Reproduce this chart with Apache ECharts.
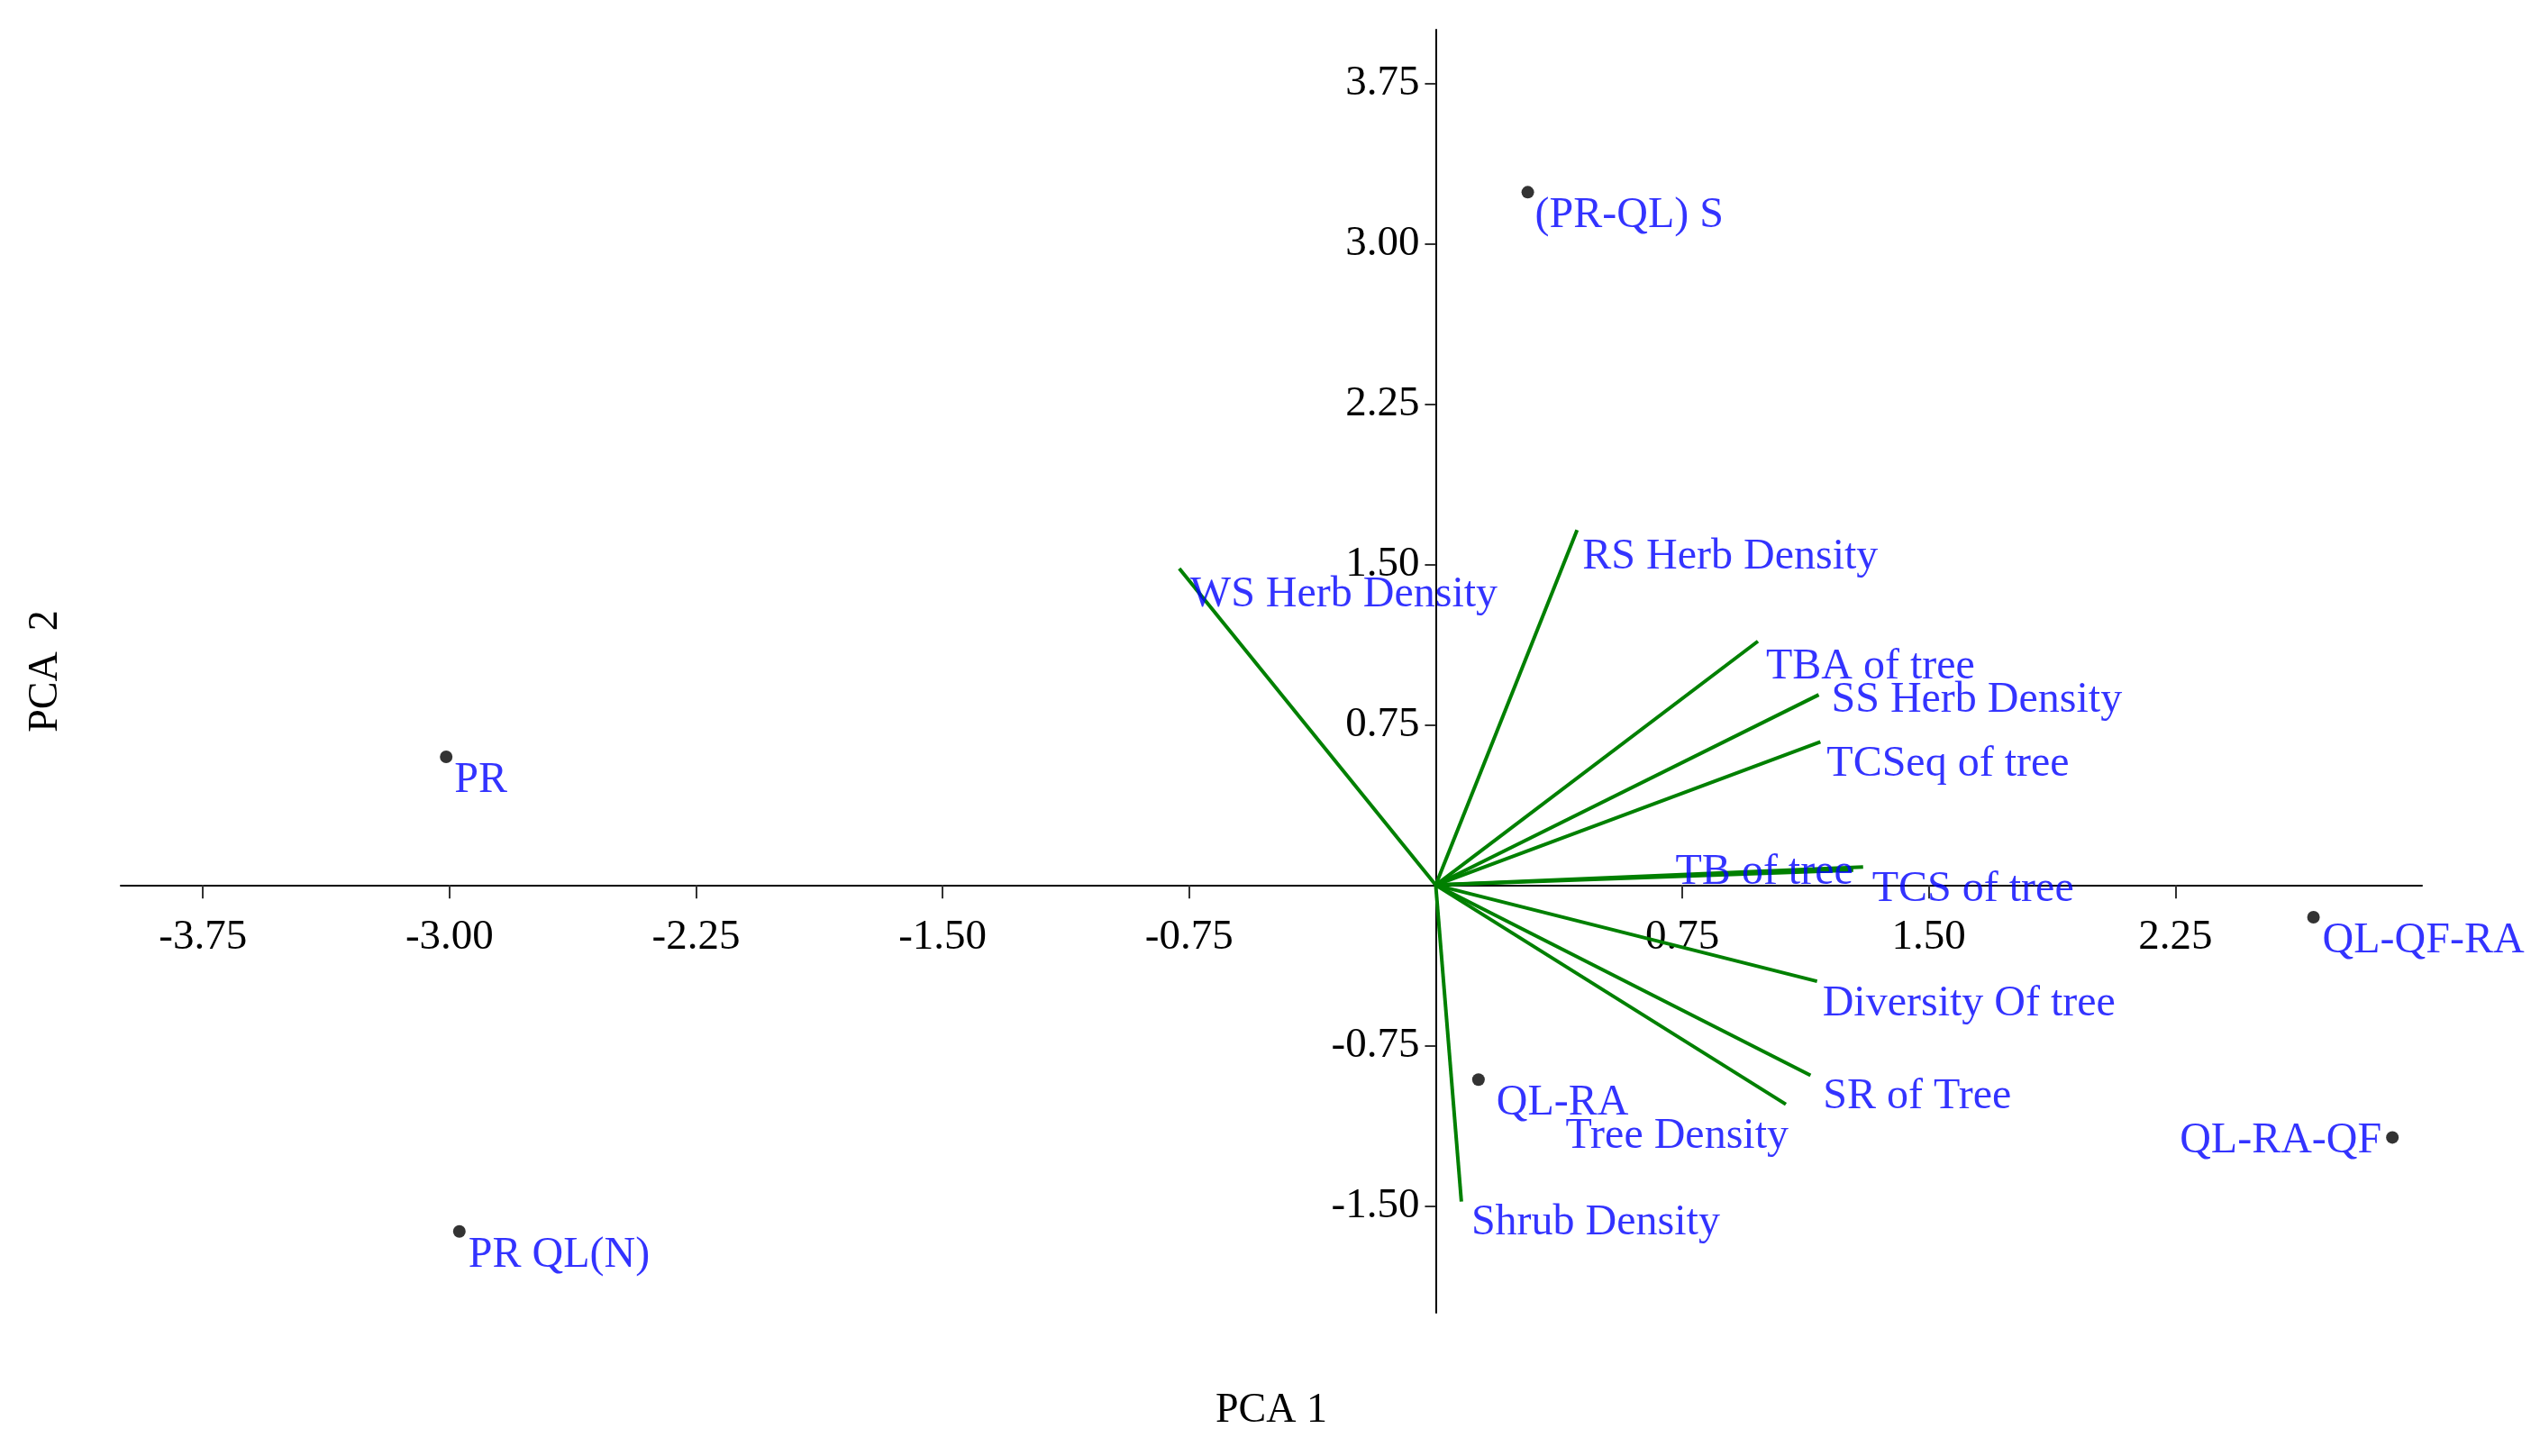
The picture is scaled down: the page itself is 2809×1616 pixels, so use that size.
<!DOCTYPE html>
<html>
<head>
<meta charset="utf-8">
<script src="https://cdn.jsdelivr.net/npm/echarts@6/dist/echarts.min.js"></script>
<style>
  html, body { margin: 0; padding: 0; background: #fff; }
  #chart { width: 2809px; height: 1616px; }
</style>
</head>
<body>
<div id="chart"></div>
<script>
// ---- data ----
const siteNames = ['(PR-QL) S', 'PR', 'PR QL(N)', 'QL-RA', 'QL-QF-RA', 'QL-RA-QF'];
const siteX = [0.28, -3.01, -2.97, 0.13, 2.67, 2.91];
const siteY = [3.24, 0.60, -1.62, -0.91, -0.15, -1.18];

const varNames = ['WS Herb Density', 'RS Herb Density', 'TBA of tree', 'SS Herb Density', 'TCSeq of tree',
                  'TB of tree', 'TCS of tree', 'Diversity Of tree', 'SR of Tree', 'Tree Density', 'Shrub Density'];
const varX = [-0.78, 0.43, 0.98, 1.165, 1.17, 1.27, 1.30, 1.16, 1.14, 1.065, 0.078];
const varY = [1.48, 1.66, 1.14, 0.89, 0.67, 0.07, 0.085, -0.45, -0.89, -1.025, -1.48];

const xTicks = [-3.75, -3.00, -2.25, -1.50, -0.75, 0.75, 1.50, 2.25];
const yTicks = [-1.50, -0.75, 0.75, 1.50, 2.25, 3.00, 3.75];

const xTitle = 'PCA 1';
const yTitle = 'PCA  2';

// ---- axis ranges ----
const xMin = -4, xMax = 3, yMin = -2, yMax = 4;

// ---- layout (styling only) ----
const G = { left: 134, right: 121, top: 33, bottom: 159 };
const W = 2809, H = 1616;
const gridW = W - G.left - G.right;
const gridH = H - G.top - G.bottom;
// shift axes from grid edges to the zero lines so that they cross at the origin
const xAxisShift = -gridH * (0 - yMin) / (yMax - yMin);
const yAxisShift = -gridW * (0 - xMin) / (xMax - xMin);

// ---- label placement (styling only) ----
const labelPlace = {
  '(PR-QL) S':        { align: 'left',  va: 'top',    off: [8, 2] },
  'PR':               { align: 'left',  va: 'top',    off: [9, 2] },
  'PR QL(N)':         { align: 'left',  va: 'top',    off: [10, 3] },
  'QL-RA':            { align: 'left',  va: 'top',    off: [20, 2] },
  'QL-QF-RA':         { align: 'left',  va: 'top',    off: [10, 2] },
  'QL-RA-QF':         { align: 'right', va: 'middle', off: [-12, 4] },
  'WS Herb Density':  { align: 'left',  va: 'top',    off: [12, 5] },
  'RS Herb Density':  { align: 'left',  va: 'top',    off: [6, 6] },
  'TBA of tree':      { align: 'left',  va: 'top',    off: [9, 5] },
  'SS Herb Density':  { align: 'left',  va: 'middle', off: [14, 6] },
  'TCSeq of tree':    { align: 'left',  va: 'top',    off: [7, 1] },
  'TB of tree':       { align: 'right', va: 'middle', off: [0, 3] },
  'TCS of tree':      { align: 'left',  va: 'top',    off: [10, 1] },
  'Diversity Of tree':{ align: 'left',  va: 'top',    off: [6, 1] },
  'SR of Tree':       { align: 'left',  va: 'top',    off: [14, 0] },
  'Tree Density':     { align: 'right', va: 'top',    off: [3, 12] },
  'Shrub Density':    { align: 'left',  va: 'top',    off: [11, 0] }
};

const FONT = '"Liberation Serif", "Times New Roman", serif';
const BLUE = '#0000ff';
const GREEN = '#008000';

function labelFor(name) {
  const p = labelPlace[name];
  return {
    show: true,
    position: 'inside',
    formatter: name,
    align: p.align,
    verticalAlign: p.va,
    offset: p.off,
    color: BLUE,
    fontFamily: FONT,
    fontSize: 48
  };
}

const siteData = siteNames.map((n, i) => ({ name: n, value: [siteX[i], siteY[i]], label: labelFor(n) }));
const varEnds = varNames.map((n, i) => ({ name: n, value: [varX[i], varY[i]], label: labelFor(n) }));
const varLines = varNames.map((n, i) => ({ name: n, coords: [[0, 0], [varX[i], varY[i]]] }));

const fmt = v => Number(v).toFixed(2);

const chart = echarts.init(document.getElementById('chart'), null, { renderer: 'canvas' });
chart.setOption({
  animation: false,
  backgroundColor: '#ffffff',
  grid: { left: G.left, right: G.right, top: G.top, bottom: G.bottom, containLabel: false },
  xAxis: [
    {
      type: 'value', min: xMin, max: xMax, position: 'bottom', offset: xAxisShift,
      axisLine: { show: true, onZero: false, lineStyle: { color: '#000', width: 2 } },
      axisTick: { show: true, customValues: xTicks, length: 15, lineStyle: { color: '#333', width: 2 } },
      axisLabel: { show: true, customValues: xTicks, formatter: fmt, margin: 35, color: '#000', fontFamily: FONT, fontSize: 47,
                   hideOverlap: false },
      splitLine: { show: false }
    },
    {
      type: 'value', min: xMin, max: xMax, position: 'bottom',
      axisLine: { show: false, onZero: false }, axisTick: { show: false }, axisLabel: { show: false }, splitLine: { show: false },
      name: xTitle, nameLocation: 'middle', nameGap: 86,
      nameTextStyle: { color: '#000', fontFamily: FONT, fontSize: 46 }
    }
  ],
  yAxis: [
    {
      type: 'value', min: yMin, max: yMax, position: 'left', offset: yAxisShift,
      axisLine: { show: true, onZero: false, lineStyle: { color: '#000', width: 2 } },
      axisTick: { show: true, customValues: yTicks, length: 12, lineStyle: { color: '#333', width: 2 } },
      axisLabel: { show: true, customValues: yTicks, formatter: fmt, margin: 18, color: '#000', fontFamily: FONT, fontSize: 47,
                   hideOverlap: false },
      splitLine: { show: false }
    },
    {
      type: 'value', min: yMin, max: yMax, position: 'left',
      axisLine: { show: false, onZero: false }, axisTick: { show: false }, axisLabel: { show: false }, splitLine: { show: false },
      name: yTitle, nameLocation: 'middle', nameGap: 60,
      nameTextStyle: { color: '#000', fontFamily: FONT, fontSize: 46 }
    }
  ],
  series: [
    {
      type: 'lines', coordinateSystem: 'cartesian2d', xAxisIndex: 0, yAxisIndex: 0,
      data: varLines,
      lineStyle: { color: GREEN, width: 4, opacity: 1, curveness: 0 },
      symbol: ['none', 'none'],
      silent: true, z: 3
    },
    {
      type: 'scatter', xAxisIndex: 0, yAxisIndex: 0,
      data: varEnds,
      symbolSize: 1,
      itemStyle: { color: 'rgba(0,0,0,0)' },
      silent: true, z: 4
    },
    {
      type: 'scatter', xAxisIndex: 0, yAxisIndex: 0,
      data: siteData,
      symbol: 'circle', symbolSize: 14,
      itemStyle: { color: '#000' },
      silent: true, z: 5
    }
  ]
});
</script>
</body>
</html>
